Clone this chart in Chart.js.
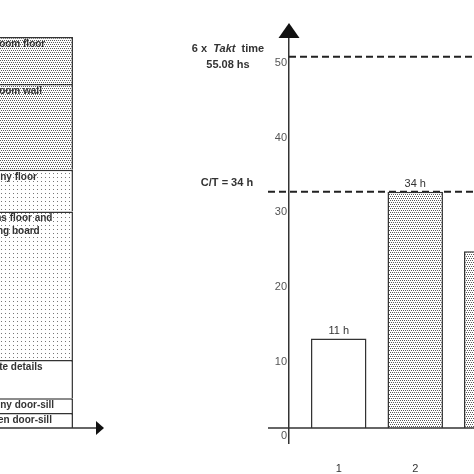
<!DOCTYPE html>
<html>
<head>
<meta charset="utf-8">
<script src="https://cdn.jsdelivr.net/npm/chart.js@4.4.0/dist/chart.umd.min.js"></script>
<style>
  html, body { margin: 0; padding: 0; background: #fff; }
  body { width: 474px; height: 474px; overflow: hidden; position: relative; }
  .box { position: absolute; top: 0; height: 474px; }
  #leftBox { left: -100px; width: 210px; }
  #rightBox { left: 150px; width: 450px; }
</style>
</head>
<body>
<div class="box" id="leftBox"><canvas id="stackChart"></canvas></div>
<div class="box" id="rightBox"><canvas id="taktChart"></canvas></div>
<script>
// Left: breakdown of one work package, bottom to top (hours)
const stackNames = [
  ['Kitchen door-sill'],
  ['Balcony door-sill'],
  ['Granite details'],
  ['Rooms floor and', 'skirting board'],
  ['Balcony floor'],
  ['Bathroom wall'],
  ['Bathroom floor']
];
const stackHours = [2.0, 2.0, 5.1, 19.9, 5.6, 11.5, 6.3];

// Right: cycle time per package (hours, as drawn against the axis)
const packages = [1, 2, 3];
const packageHours = [12, 31.7, 23.7];
const packageNotes = ['11 h', '34 h', ''];
const yTicks = [0, 10, 20, 30, 40, 50];

// reference lines
const taktValue = 49.8;
const cycleValue = 31.7;

// fill style per stacked segment / per package bar
const stackFill = ['plain', 'plain', 'plain', 'sparse', 'sparse', 'dense', 'dense'];
const packageFill = ['plain', 'dense', 'dense'];

const INK = '#333';
const FONT = 'Liberation Sans, Arial, sans-serif';

function makeFill(kind) {
  if (kind === 'plain') return '#fff';
  const tile = document.createElement('canvas');
  tile.width = 4;
  tile.height = 4;
  const g = tile.getContext('2d');
  g.fillStyle = '#fff';
  g.fillRect(0, 0, 4, 4);
  if (kind === 'dense') {
    g.fillStyle = '#5a5a5a';
    g.fillRect(0, 0, 1, 1);
    g.fillRect(2, 0, 1, 1);
    g.fillRect(1, 2, 1, 1);
    g.fillRect(3, 2, 1, 1);
  } else {
    g.fillStyle = '#777';
    g.fillRect(1, 1, 1, 1);
  }
  return g.createPattern(tile, 'repeat');
}

// ---------- left stacked bar ----------
const stackLabelPlugin = {
  id: 'stackLabels',
  afterDatasetsDraw(chart) {
    const { ctx, chartArea, scales } = chart;
    const y0 = scales.y.getPixelForValue(0);
    ctx.save();
    // x axis with arrow
    ctx.strokeStyle = INK;
    ctx.lineWidth = 1.5;
    ctx.beginPath();
    ctx.moveTo(chartArea.left, y0);
    ctx.lineTo(chartArea.right, y0);
    ctx.stroke();
    ctx.fillStyle = '#111';
    ctx.beginPath();
    ctx.moveTo(chartArea.right, y0 - 7);
    ctx.lineTo(chartArea.right + 8, y0);
    ctx.lineTo(chartArea.right, y0 + 7);
    ctx.closePath();
    ctx.fill();

    ctx.font = 'bold 10px ' + FONT;
    ctx.fillStyle = INK;
    ctx.textAlign = 'left';
    ctx.textBaseline = 'middle';
    chart.data.datasets.forEach((ds, i) => {
      const bar = chart.getDatasetMeta(i).data[0];
      const top = Math.min(bar.y, bar.base);
      const left = bar.x - bar.width / 2;
      stackNames[i].forEach((line, k) => {
        ctx.fillText(line, left + 6, top + 7 + k * 13);
      });
    });
    ctx.restore();
  }
};

new Chart(document.getElementById('stackChart'), {
  type: 'bar',
  data: {
    labels: [''],
    datasets: stackHours.map((h, i) => ({
      data: [h],
      backgroundColor: makeFill(stackFill[i]),
      borderColor: INK,
      borderWidth: 1.5,
      categoryPercentage: 1,
      barPercentage: 0.697
    }))
  },
  options: {
    responsive: true,
    maintainAspectRatio: false,
    animation: false,
    layout: { padding: { left: 44, right: 14, top: 25, bottom: 46 } },
    plugins: { legend: { display: false }, tooltip: { enabled: false } },
    scales: {
      x: { display: false, stacked: true },
      y: { display: false, stacked: true, min: 0, max: 54 }
    }
  },
  plugins: [stackLabelPlugin]
});

// ---------- right bar chart ----------
function drawMixed(ctx, parts, cx, cy) {
  let total = 0;
  parts.forEach(p => { ctx.font = p.font; total += ctx.measureText(p.text).width; });
  let x = cx - total / 2;
  parts.forEach(p => {
    ctx.font = p.font;
    ctx.fillText(p.text, x, cy);
    x += ctx.measureText(p.text).width;
  });
}

const taktPlugin = {
  id: 'taktDecor',
  beforeDatasetsDraw(chart) {
    const { ctx, chartArea, scales } = chart;
    const ax = chartArea.left;
    const yT = scales.y.getPixelForValue(taktValue);
    const yC = scales.y.getPixelForValue(cycleValue);
    ctx.save();
    ctx.strokeStyle = '#222';
    ctx.lineWidth = 2;
    ctx.setLineDash([7, 4]);
    ctx.beginPath();
    ctx.moveTo(ax, yT);
    ctx.lineTo(chart.width, yT);
    ctx.moveTo(ax - 21, yC);
    ctx.lineTo(chart.width, yC);
    ctx.stroke();
    ctx.restore();
  },
  afterDatasetsDraw(chart) {
    const { ctx, chartArea, scales } = chart;
    const ax = chartArea.left;
    const y0 = scales.y.getPixelForValue(0);
    const yT = scales.y.getPixelForValue(taktValue);
    const yC = scales.y.getPixelForValue(cycleValue);
    ctx.save();
    // x axis line at zero
    ctx.strokeStyle = INK;
    ctx.lineWidth = 1.5;
    ctx.beginPath();
    ctx.moveTo(ax - 21, y0);
    ctx.lineTo(chart.width, y0);
    ctx.stroke();
    // arrow on top of y axis
    ctx.fillStyle = '#111';
    ctx.beginPath();
    ctx.moveTo(ax - 10.5, chartArea.top);
    ctx.lineTo(ax, chartArea.top - 15);
    ctx.lineTo(ax + 10.5, chartArea.top);
    ctx.closePath();
    ctx.fill();

    // reference line captions
    ctx.fillStyle = INK;
    ctx.textAlign = 'left';
    ctx.textBaseline = 'middle';
    const bold = 'bold 11px ' + FONT;
    drawMixed(ctx, [
      { text: '6 x  ', font: bold },
      { text: 'Takt', font: 'italic bold 11px ' + FONT },
      { text: '  time', font: bold }
    ], ax - 61, yT - 8);
    drawMixed(ctx, [{ text: '55.08 hs', font: bold }], ax - 61, yT + 8);
    drawMixed(ctx, [{ text: 'C/T = 34 h', font: bold }], ax - 62, yC - 9);

    // bar captions
    ctx.font = '11px ' + FONT;
    ctx.textAlign = 'center';
    chart.getDatasetMeta(0).data.forEach((bar, i) => {
      if (packageNotes[i]) ctx.fillText(packageNotes[i], bar.x, bar.y - 8);
    });
    ctx.restore();
  }
};

new Chart(document.getElementById('taktChart'), {
  type: 'bar',
  data: {
    datasets: [{
      data: packages.map((p, i) => ({ x: p, y: packageHours[i] })),
      backgroundColor: packageFill.map(makeFill),
      borderColor: INK,
      borderWidth: 1.5,
      categoryPercentage: 1,
      barPercentage: 0.725
    }]
  },
  options: {
    responsive: true,
    maintainAspectRatio: false,
    animation: false,
    layout: { padding: { left: 119, right: 0, top: 38, bottom: 0 } },
    plugins: { legend: { display: false }, tooltip: { enabled: false } },
    scales: {
      x: {
        type: 'linear',
        offset: false,
        min: 0.35,
        max: 4.415,
        grid: { display: false, drawTicks: false },
        border: { display: false },
        ticks: { color: INK, font: { family: FONT, size: 11 }, padding: 19 },
        afterBuildTicks: axis => { axis.ticks = packages.map(v => ({ value: v })); },
        afterFit: axis => { axis.height = 31; }
      },
      y: {
        min: -2,
        max: 52.3,
        grid: { display: false, drawTicks: false },
        border: { display: true, color: INK, width: 1.5 },
        ticks: { color: '#555', font: { family: FONT, size: 11 }, padding: 2, labelOffset: 8 },
        afterBuildTicks: axis => { axis.ticks = yTicks.map(v => ({ value: v })); },
        afterFit: axis => { axis.width = 20; }
      }
    }
  },
  plugins: [taktPlugin]
});
</script>
</body>
</html>
